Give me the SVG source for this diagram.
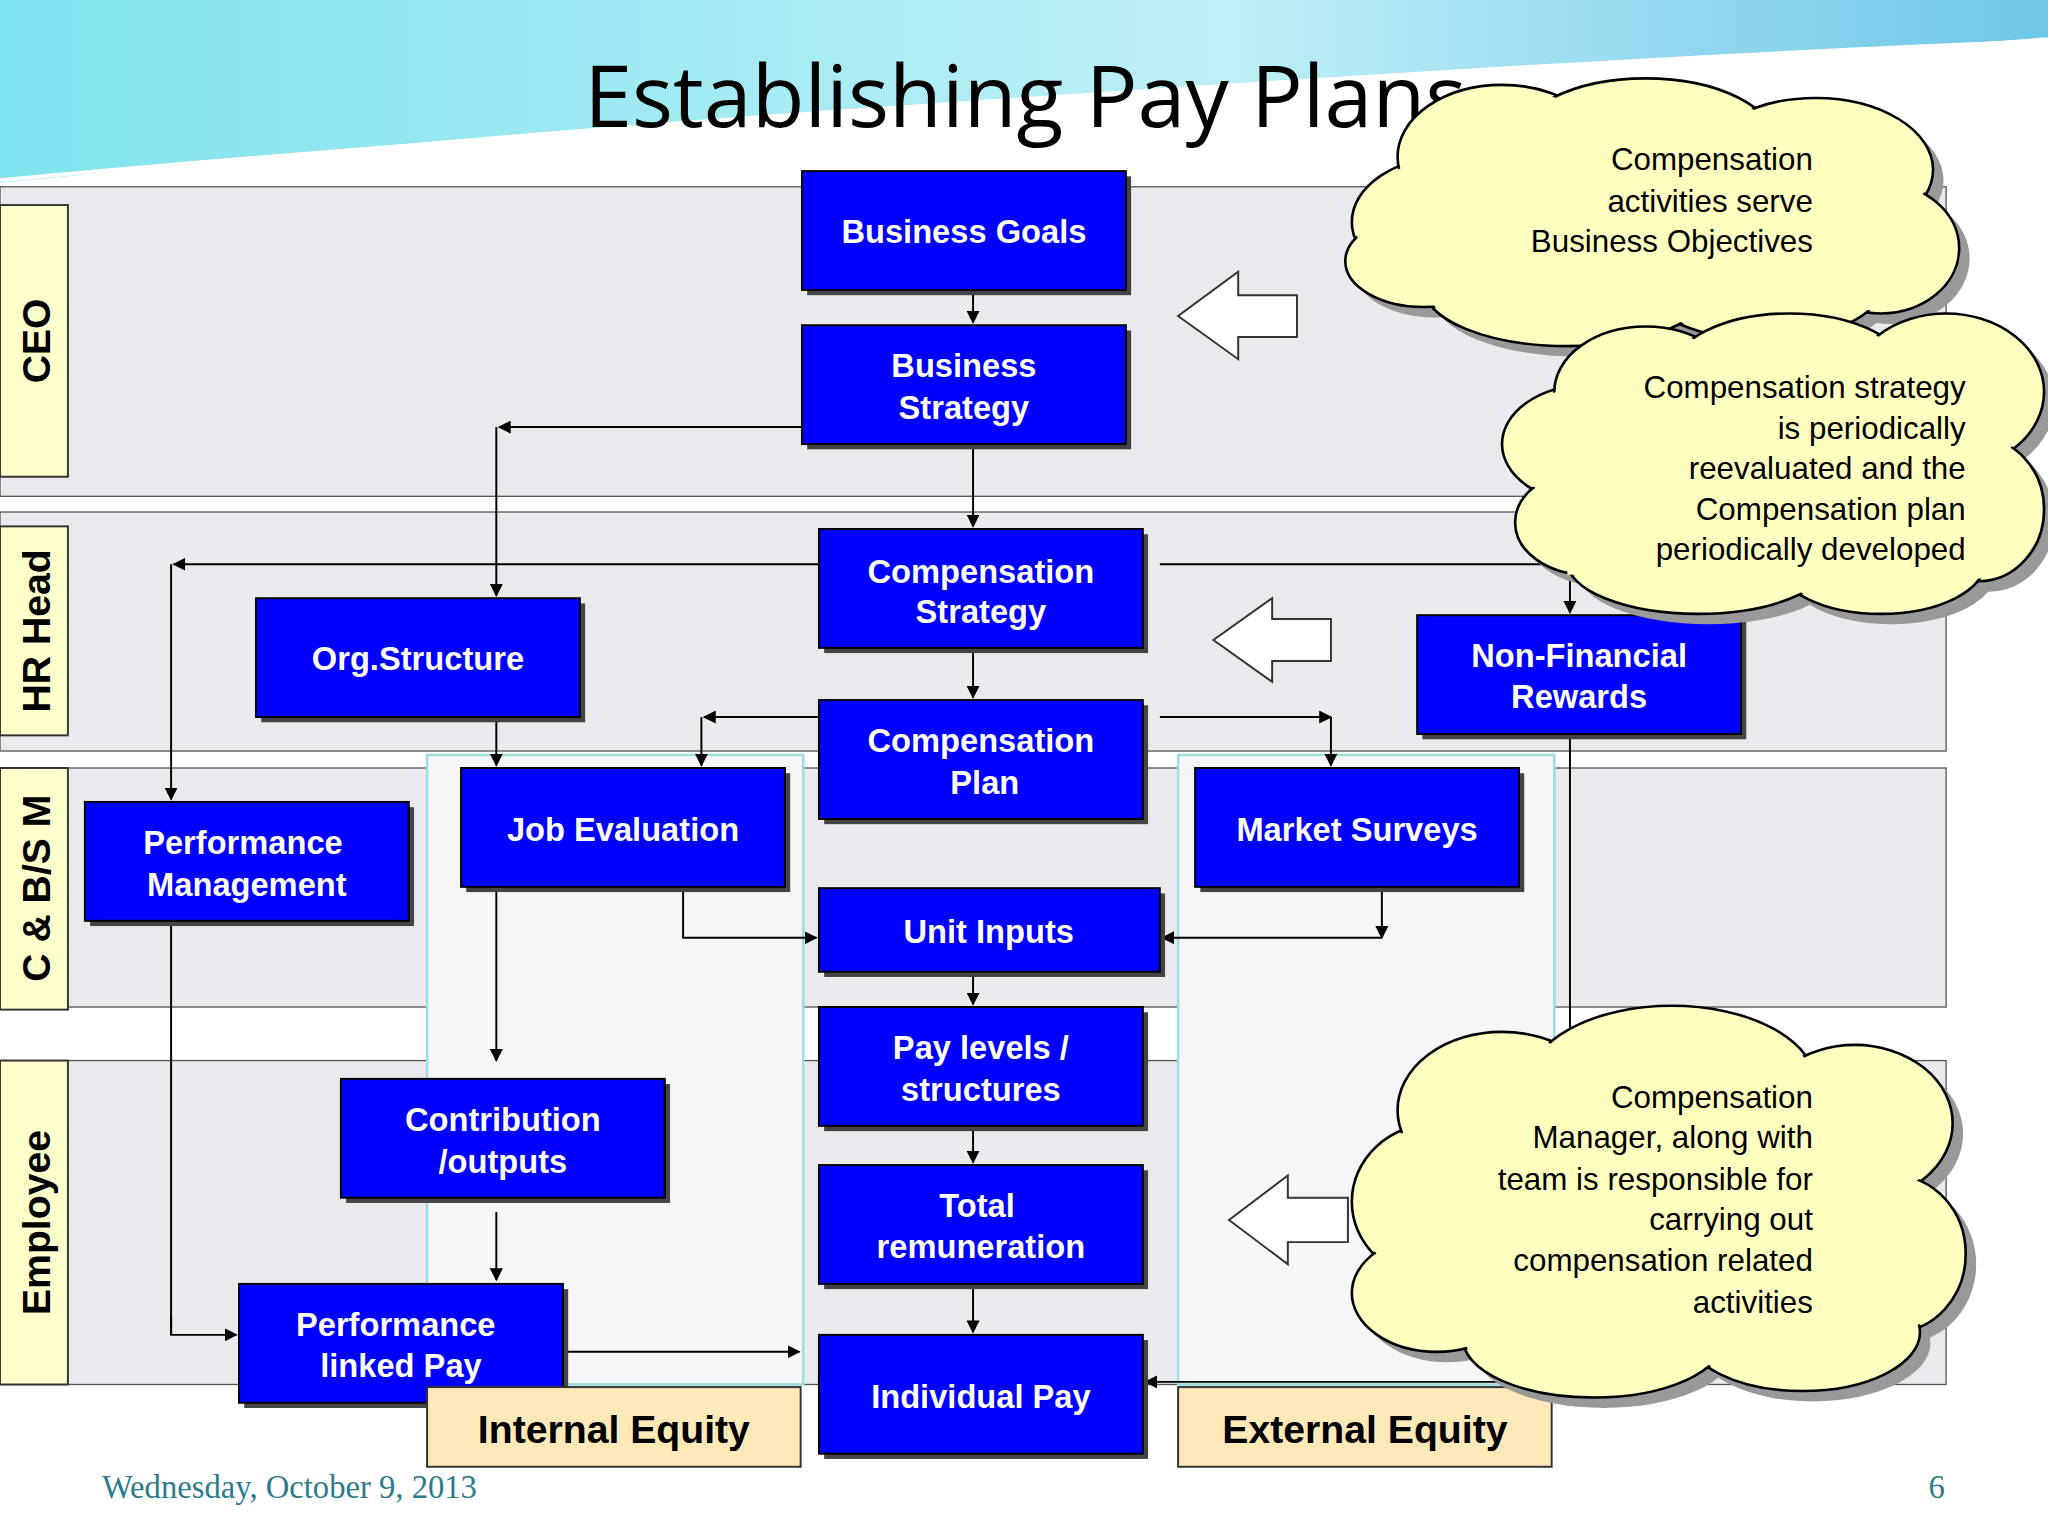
<svg xmlns="http://www.w3.org/2000/svg" width="2048" height="1536" viewBox="0 0 2048 1536">
<defs>
<linearGradient id="sky" x1="0" y1="0" x2="1" y2="0"><stop offset="0" stop-color="#7fe3ee"/><stop offset="0.6" stop-color="#bdf0f6"/><stop offset="1" stop-color="#6fc6e8"/></linearGradient>
<marker id="ah" markerWidth="10" markerHeight="10" refX="9" refY="5" orient="auto" markerUnits="userSpaceOnUse"><path d="M0,0 L10,5 L0,10 z" fill="#000"/></marker>
<style>
.lane{fill:#e9e9ee;stroke:#555;stroke-width:1}
.lab{fill:#ffffcc;stroke:#333;stroke-width:1.5}
.labt{font-family:"Liberation Sans",Arial,sans-serif;font-weight:bold;font-size:30px;fill:#000}
.col{fill:#f6f6f8;stroke:#9fdede;stroke-width:2}
.nb{fill:#0000ff;stroke:#000;stroke-width:1.5}
.sh{fill:#444}
.nt{font-family:"Liberation Sans",Arial,sans-serif;font-weight:bold;font-size:25px;fill:#fff;text-anchor:middle}
.eq{fill:#fde8b8;stroke:#333;stroke-width:1.5}
.eqt{font-family:"Liberation Sans",Arial,sans-serif;font-weight:bold;font-size:30px;fill:#000;text-anchor:middle}
.c{fill:none;stroke:#000;stroke-width:1.5}
.cl{fill:#ffffc0;stroke:#000;stroke-width:2}
.cf{fill:#ffffc0}
.cs{fill:#999}
.ct{font-family:"Liberation Sans",Arial,sans-serif;font-size:24px;fill:#000;text-anchor:end}
.ba{fill:#fff;stroke:#333;stroke-width:1.5}
</style>
</defs>
<rect width="2048" height="1536" fill="#fff"/>
<g transform="scale(1.30612)">
<path d="M0,0 H1568 V30 C1300,40 1000,60 700,80 C400,100 200,120 0,140 Z" fill="url(#sky)"/>
<path d="M0,138 C300,110 600,90 900,75 C1100,65 1300,50 1568,30" fill="none" stroke="#fff" stroke-width="3"/>
<text x="785" y="97" font-family="Open Sans,Liberation Sans,sans-serif" font-size="66" text-anchor="middle" fill="#000">Establishing Pay Plans</text>

<g id="lanes">
<rect class="lane" x="0" y="143" width="1490" height="237"/>
<rect class="lane" x="0" y="392" width="1490" height="183"/>
<rect class="lane" x="0" y="588" width="1490" height="183"/>
<rect class="lane" x="0" y="812" width="1490" height="248"/>
<rect class="lab" x="0" y="157" width="52" height="208"/>
<rect class="lab" x="0" y="403" width="52" height="160"/>
<rect class="lab" x="0" y="588" width="52" height="185"/>
<rect class="lab" x="0" y="812" width="52" height="248"/>
<text class="labt" transform="translate(38,261) rotate(-90)" text-anchor="middle">CEO</text>
<text class="labt" transform="translate(38,483) rotate(-90)" text-anchor="middle">HR Head</text>
<text class="labt" transform="translate(38,680) rotate(-90)" text-anchor="middle">C &amp; B/S M</text>
<text class="labt" transform="translate(38,936) rotate(-90)" text-anchor="middle">Employee</text>
<rect class="col" x="327" y="578" width="288" height="482"/>
<rect class="col" x="902" y="578" width="288" height="482"/>
</g>

<g id="connectors">
<path class="c" d="M745,222 V247" marker-end="url(#ah)"/>
<path class="c" d="M745,340 V403" marker-end="url(#ah)"/>
<path class="c" d="M614,327 H382" marker-end="url(#ah)"/>
<path class="c" d="M380,327 V456" marker-end="url(#ah)"/>
<path class="c" d="M627,432 H133" marker-end="url(#ah)"/>
<path class="c" d="M131,432 V612" marker-end="url(#ah)"/>
<path class="c" d="M888,432 H1202 V469" marker-end="url(#ah)"/>
<path class="c" d="M745,496 V534" marker-end="url(#ah)"/>
<path class="c" d="M627,549 H539" marker-end="url(#ah)"/>
<path class="c" d="M537,549 V586" marker-end="url(#ah)"/>
<path class="c" d="M888,549 H1019" marker-end="url(#ah)"/>
<path class="c" d="M1019,549 V586" marker-end="url(#ah)"/>
<path class="c" d="M380,549 V586" marker-end="url(#ah)"/>
<path class="c" d="M523,679 V718 H625" marker-end="url(#ah)"/>
<path class="c" d="M1058,679 V718" marker-end="url(#ah)"/>
<path class="c" d="M1058,718 H890" marker-end="url(#ah)"/>
<path class="c" d="M380,679 V812" marker-end="url(#ah)"/>
<path class="c" d="M745,744 V769" marker-end="url(#ah)"/>
<path class="c" d="M745,862 V890" marker-end="url(#ah)"/>
<path class="c" d="M745,982 V1020" marker-end="url(#ah)"/>
<path class="c" d="M380,928 V980" marker-end="url(#ah)"/>
<path class="c" d="M131,705 V1022 H181" marker-end="url(#ah)"/>
<path class="c" d="M131,1022 V1008"/>
<path class="c" d="M431,1035 H612" marker-end="url(#ah)"/>
<path class="c" d="M1202,562 V1058 H877" marker-end="url(#ah)"/>
</g>

<g id="n-bg"><rect class="sh" x="618" y="135" width="248" height="91"/><rect class="nb" x="614" y="131" width="248" height="91"/><text class="nt" x="738" y="186">Business Goals</text></g>
<g id="n-bs"><rect class="sh" x="618" y="253" width="248" height="91"/><rect class="nb" x="614" y="249" width="248" height="91"/><text class="nt" x="738" y="289">Business</text><text class="nt" x="738" y="321">Strategy</text></g>
<g id="n-cs"><rect class="sh" x="631" y="409" width="248" height="91"/><rect class="nb" x="627" y="405" width="248" height="91"/><text class="nt" x="751" y="446">Compensation</text><text class="nt" x="751" y="477">Strategy</text></g>
<g id="n-org"><rect class="sh" x="200" y="462" width="248" height="91"/><rect class="nb" x="196" y="458" width="248" height="91"/><text class="nt" x="320" y="513">Org.Structure</text></g>
<g id="n-nfr"><rect class="sh" x="1089" y="475" width="248" height="91"/><rect class="nb" x="1085" y="471" width="248" height="91"/><text class="nt" x="1209" y="511">Non-Financial</text><text class="nt" x="1209" y="542">Rewards</text></g>
<g id="n-cp"><rect class="sh" x="631" y="540" width="248" height="91"/><rect class="nb" x="627" y="536" width="248" height="91"/><text class="nt" x="751" y="576">Compensation</text><text class="nt" x="754" y="608">Plan</text></g>
<g id="n-pm"><rect class="sh" x="69" y="618" width="248" height="91"/><rect class="nb" x="65" y="614" width="248" height="91"/><text class="nt" x="186" y="654">Performance</text><text class="nt" x="189" y="686">Management</text></g>
<g id="n-je"><rect class="sh" x="357" y="592" width="248" height="91"/><rect class="nb" x="353" y="588" width="248" height="91"/><text class="nt" x="477" y="644">Job Evaluation</text></g>
<g id="n-ms"><rect class="sh" x="919" y="592" width="248" height="91"/><rect class="nb" x="915" y="588" width="248" height="91"/><text class="nt" x="1039" y="644">Market Surveys</text></g>
<g id="n-ui"><rect class="sh" x="631" y="684" width="261" height="64"/><rect class="nb" x="627" y="680" width="261" height="64"/><text class="nt" x="757" y="722">Unit Inputs</text></g>
<g id="n-pl"><rect class="sh" x="631" y="775" width="248" height="91"/><rect class="nb" x="627" y="771" width="248" height="91"/><text class="nt" x="751" y="811">Pay levels /</text><text class="nt" x="751" y="843">structures</text></g>
<g id="n-co"><rect class="sh" x="265" y="830" width="248" height="91"/><rect class="nb" x="261" y="826" width="248" height="91"/><text class="nt" x="385" y="866">Contribution</text><text class="nt" x="385" y="898">/outputs</text></g>
<g id="n-tr"><rect class="sh" x="631" y="896" width="248" height="91"/><rect class="nb" x="627" y="892" width="248" height="91"/><text class="nt" x="748" y="932">Total</text><text class="nt" x="751" y="963">remuneration</text></g>
<g id="n-plp"><rect class="sh" x="187" y="987" width="248" height="91"/><rect class="nb" x="183" y="983" width="248" height="91"/><text class="nt" x="303" y="1023">Performance</text><text class="nt" x="307" y="1054">linked Pay</text></g>
<g id="n-ip"><rect class="sh" x="631" y="1026" width="248" height="91"/><rect class="nb" x="627" y="1022" width="248" height="91"/><text class="nt" x="751" y="1078">Individual Pay</text></g>
<g id="n-ie"><rect class="eq" x="327" y="1062" width="286" height="61"/><text class="eqt" x="470" y="1105">Internal Equity</text></g>
<g id="n-ee"><rect class="eq" x="902" y="1062" width="286" height="61"/><text class="eqt" x="1045" y="1105">External Equity</text></g>

<g id="block-arrows">
<path class="ba" d="M993,226 H948 V208 L902,242 L948,275 V258 H993 Z"/>
<path class="ba" d="M1019,474 H974 V458 L929,490 L974,522 V506 H1019 Z"/>
<path class="ba" d="M1032,917 H986 V900 L941,934 L986,968 V951 H1032 Z"/>
</g>

<g id="cloud1">
<g class="cs" transform="translate(8,8)"><ellipse cx="1110" cy="170" rx="75" ry="50"/><ellipse cx="1150" cy="120" rx="80" ry="55"/><ellipse cx="1260" cy="110" rx="100" ry="50"/><ellipse cx="1390" cy="130" rx="90" ry="55"/><ellipse cx="1440" cy="190" rx="60" ry="50"/><ellipse cx="1350" cy="220" rx="90" ry="40"/><ellipse cx="1200" cy="220" rx="110" ry="45"/><ellipse cx="1090" cy="200" rx="60" ry="35"/></g>
<g class="cl"><ellipse cx="1110" cy="170" rx="75" ry="50"/><ellipse cx="1150" cy="120" rx="80" ry="55"/><ellipse cx="1260" cy="110" rx="100" ry="50"/><ellipse cx="1390" cy="130" rx="90" ry="55"/><ellipse cx="1440" cy="190" rx="60" ry="50"/><ellipse cx="1350" cy="220" rx="90" ry="40"/><ellipse cx="1200" cy="220" rx="110" ry="45"/><ellipse cx="1090" cy="200" rx="60" ry="35"/></g>
<g class="cf"><ellipse cx="1110" cy="170" rx="73" ry="48"/><ellipse cx="1150" cy="120" rx="78" ry="53"/><ellipse cx="1260" cy="110" rx="98" ry="48"/><ellipse cx="1390" cy="130" rx="88" ry="53"/><ellipse cx="1440" cy="190" rx="58" ry="48"/><ellipse cx="1350" cy="220" rx="88" ry="38"/><ellipse cx="1200" cy="220" rx="108" ry="43"/><ellipse cx="1090" cy="200" rx="58" ry="33"/><rect x="1100" y="120" width="340" height="110"/></g>
<text class="ct" x="1388" y="130">Compensation</text><text class="ct" x="1388" y="162">activities serve</text><text class="ct" x="1388" y="193">Business Objectives</text>
</g>

<g id="cloud2">
<g class="cs" transform="translate(8,8)"><ellipse cx="1215" cy="340" rx="65" ry="45"/><ellipse cx="1260" cy="300" rx="70" ry="50"/><ellipse cx="1370" cy="285" rx="90" ry="45"/><ellipse cx="1490" cy="300" rx="75" ry="60"/><ellipse cx="1515" cy="390" rx="50" ry="55"/><ellipse cx="1440" cy="430" rx="80" ry="40"/><ellipse cx="1300" cy="430" rx="100" ry="40"/><ellipse cx="1215" cy="400" rx="55" ry="40"/></g>
<g class="cl"><ellipse cx="1215" cy="340" rx="65" ry="45"/><ellipse cx="1260" cy="300" rx="70" ry="50"/><ellipse cx="1370" cy="285" rx="90" ry="45"/><ellipse cx="1490" cy="300" rx="75" ry="60"/><ellipse cx="1515" cy="390" rx="50" ry="55"/><ellipse cx="1440" cy="430" rx="80" ry="40"/><ellipse cx="1300" cy="430" rx="100" ry="40"/><ellipse cx="1215" cy="400" rx="55" ry="40"/></g>
<g class="cf"><ellipse cx="1215" cy="340" rx="63" ry="43"/><ellipse cx="1260" cy="300" rx="68" ry="48"/><ellipse cx="1370" cy="285" rx="88" ry="43"/><ellipse cx="1490" cy="300" rx="73" ry="58"/><ellipse cx="1515" cy="390" rx="48" ry="53"/><ellipse cx="1440" cy="430" rx="78" ry="38"/><ellipse cx="1300" cy="430" rx="98" ry="38"/><ellipse cx="1215" cy="400" rx="53" ry="38"/><rect x="1200" y="290" width="320" height="150"/></g>
<text class="ct" x="1505" y="305">Compensation strategy</text><text class="ct" x="1505" y="336">is periodically</text><text class="ct" x="1505" y="367">reevaluated and the</text><text class="ct" x="1505" y="398">Compensation plan</text><text class="ct" x="1505" y="429">periodically developed</text>
</g>

<g id="cloud3">
<g class="cs" transform="translate(8,8)"><ellipse cx="1100" cy="920" rx="65" ry="60"/><ellipse cx="1150" cy="850" rx="80" ry="60"/><ellipse cx="1280" cy="830" rx="110" ry="60"/><ellipse cx="1420" cy="860" rx="75" ry="60"/><ellipse cx="1450" cy="960" rx="55" ry="60"/><ellipse cx="1380" cy="1020" rx="90" ry="45"/><ellipse cx="1220" cy="1025" rx="100" ry="45"/><ellipse cx="1100" cy="990" rx="65" ry="45"/></g>
<g class="cl"><ellipse cx="1100" cy="920" rx="65" ry="60"/><ellipse cx="1150" cy="850" rx="80" ry="60"/><ellipse cx="1280" cy="830" rx="110" ry="60"/><ellipse cx="1420" cy="860" rx="75" ry="60"/><ellipse cx="1450" cy="960" rx="55" ry="60"/><ellipse cx="1380" cy="1020" rx="90" ry="45"/><ellipse cx="1220" cy="1025" rx="100" ry="45"/><ellipse cx="1100" cy="990" rx="65" ry="45"/></g>
<g class="cf"><ellipse cx="1100" cy="920" rx="63" ry="58"/><ellipse cx="1150" cy="850" rx="78" ry="58"/><ellipse cx="1280" cy="830" rx="108" ry="58"/><ellipse cx="1420" cy="860" rx="73" ry="58"/><ellipse cx="1450" cy="960" rx="53" ry="58"/><ellipse cx="1380" cy="1020" rx="88" ry="43"/><ellipse cx="1220" cy="1025" rx="98" ry="43"/><ellipse cx="1100" cy="990" rx="63" ry="43"/><rect x="1100" y="850" width="350" height="180"/></g>
<text class="ct" x="1388" y="848">Compensation</text><text class="ct" x="1388" y="879">Manager, along with</text><text class="ct" x="1388" y="911">team is responsible for</text><text class="ct" x="1388" y="942">carrying out</text><text class="ct" x="1388" y="973">compensation related</text><text class="ct" x="1388" y="1005">activities</text>
</g>

<text x="78" y="1147" font-family="Liberation Serif,serif" font-size="25" fill="#2a7c8c">Wednesday, October 9, 2013</text>
<text x="1489" y="1147" font-family="Liberation Serif,serif" font-size="25" fill="#2a7c8c" text-anchor="end">6</text>
</g>
</svg>
